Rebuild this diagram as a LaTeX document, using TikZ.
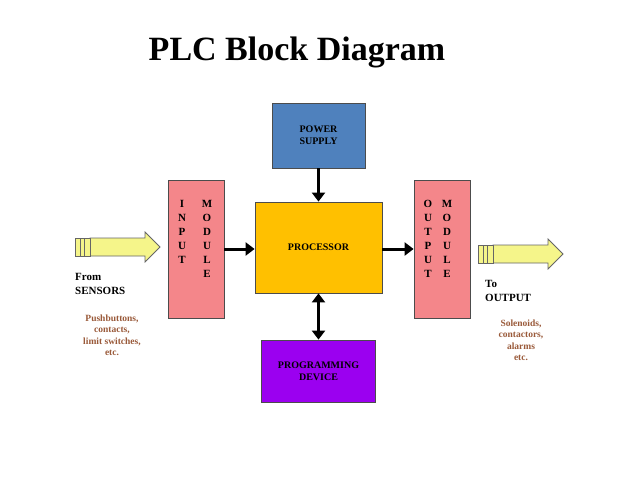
\documentclass[tikz,border=0pt]{standalone}
\usepackage{fontspec}
\setmainfont{Liberation Serif}
\usetikzlibrary{arrows.meta}
\definecolor{psblue}{HTML}{4F81BD}
\definecolor{procgold}{HTML}{FFC000}
\definecolor{progpurple}{HTML}{9B00F0}
\definecolor{modpink}{HTML}{F4868A}
\definecolor{arryel}{HTML}{F5F58A}
\definecolor{brownt}{HTML}{9A5A3A}
\begin{document}
\begin{tikzpicture}[x=1pt,y=-1pt,
 blk/.style={draw=black!70,line width=0.8pt,inner sep=0pt},
 lbl/.style={font=\bfseries\fontsize{10}{12}\selectfont,align=center},
 vl/.style={font=\bfseries\fontsize{11}{14}\selectfont,align=center,inner sep=0pt},
 conn/.style={line width=3pt,-{Triangle[length=9pt,width=13pt]}},
 bigarr/.style={draw=black!60,fill=arryel,line width=0.8pt},
 note/.style={font=\bfseries\fontsize{9.5}{11.5}\selectfont,text=brownt,align=center}]
\useasboundingbox (0,0) rectangle (638,479);
\fill[white] (0,0) rectangle (638,479);
\node[font=\bfseries\fontsize{34}{38}\selectfont] (title) at (297,52) {PLC Block Diagram};
\node[blk,fill=psblue,minimum width=93pt,minimum height=65pt,lbl] (ps) at (318.5,135.5) {POWER\\SUPPLY};
\node[blk,fill=procgold,minimum width=127pt,minimum height=91pt,lbl] (proc) at (318.5,247.5) {PROCESSOR};
\node[blk,fill=progpurple,minimum width=114pt,minimum height=62pt,lbl] (prog) at (318.5,371) {PROGRAMMING\\DEVICE};
\node[blk,fill=modpink,minimum width=56pt,minimum height=138pt] (in) at (196,249) {};
\node[blk,fill=modpink,minimum width=56pt,minimum height=138pt] (out) at (442,249) {};
\node[vl,anchor=north] (inA) at (182,200) {I\\N\\P\\U\\T};
\node[vl,anchor=north] (inB) at (207,200) {M\\O\\D\\U\\L\\E};
\node[vl,anchor=north] (outA) at (428,200) {O\\U\\T\\P\\U\\T};
\node[vl,anchor=north] (outB) at (447,200) {M\\O\\D\\U\\L\\E};
\draw[conn] (ps) -- (proc);
\draw[line width=3pt,{Triangle[length=9pt,width=13pt]}-{Triangle[length=9pt,width=13pt]}] (proc) -- (prog);
\draw[conn] (in) -- (proc.west|-in);
\draw[conn] (proc.east|-out) -- (out);
% big arrows
\draw[bigarr] (90,238) -- (145,238) -- (145,232) -- (160,247) -- (145,262) -- (145,256) -- (90,256) -- cycle;
\draw[bigarr] (75,238) rectangle (90,256);
\draw[black!60] (80,238) -- (80,256) (84,238) -- (84,256);
\draw[bigarr] (493,245) -- (548,245) -- (548,239) -- (563,254) -- (548,269) -- (548,263) -- (493,263) -- cycle;
\draw[bigarr] (478,245) rectangle (493,263);
\draw[black!60] (483,245) -- (483,263) (487,245) -- (487,263);
\node[font=\bfseries\fontsize{11}{14}\selectfont,align=left,anchor=north west,inner sep=0pt] (from) at (75,273) {From\\SENSORS};
\node[note,anchor=north] (pb) at (112,311) {Pushbuttons,\\contacts,\\limit switches,\\etc.};
\node[font=\bfseries\fontsize{11}{14}\selectfont,align=left,anchor=north west,inner sep=0pt] (to) at (485,280) {To\\OUTPUT};
\node[note,anchor=north] (sol) at (521,316) {Solenoids,\\contactors,\\alarms\\etc.};
\end{tikzpicture}
\end{document}
